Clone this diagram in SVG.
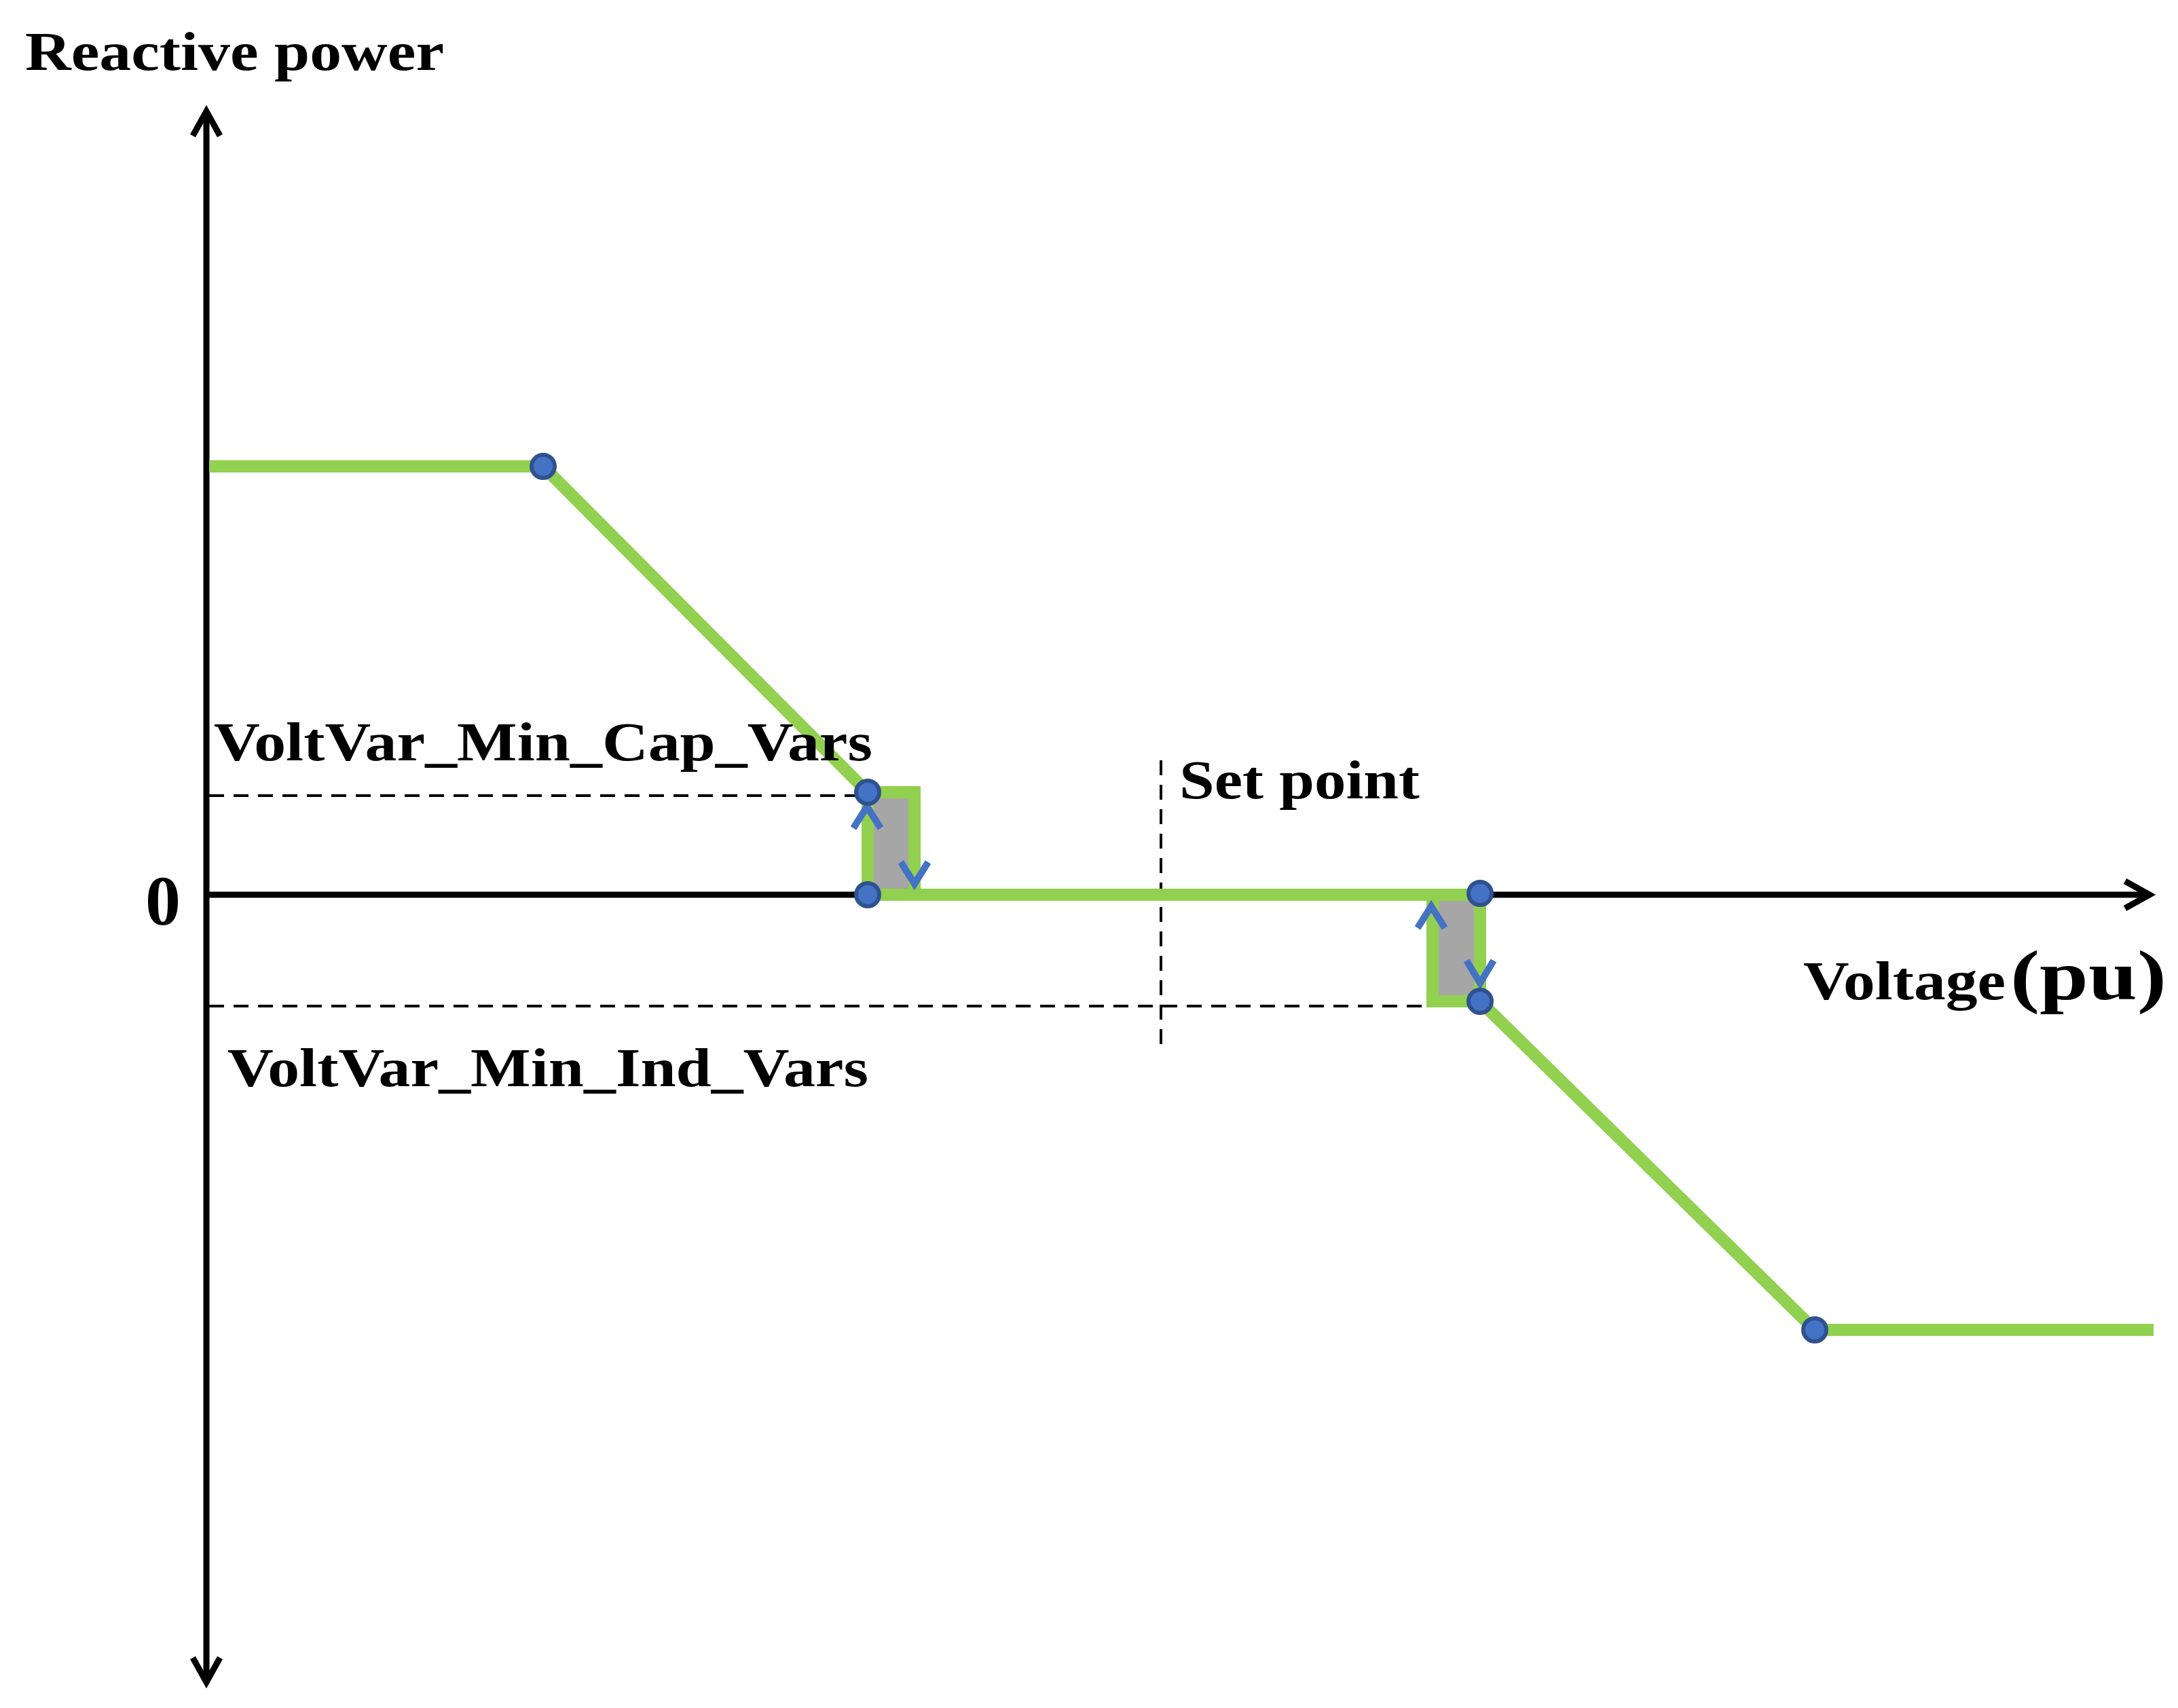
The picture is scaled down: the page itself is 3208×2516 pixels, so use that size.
<svg xmlns="http://www.w3.org/2000/svg" width="3208" height="2516" viewBox="0 0 3208 2516">
<style>
.t{font-family:"Liberation Serif",serif;font-weight:bold;fill:#000}
.g{stroke:#92d050;stroke-width:18;fill:none}
.dot{fill:#4472c4;stroke:#2f528f;stroke-width:6}
.ch{stroke:#4472c4;stroke-width:10;fill:none}
.ds{stroke:#000;stroke-width:4;stroke-dasharray:22 14;fill:none}
</style>
<defs><marker id="ar" viewBox="0 0 20 20" refX="16" refY="10" markerWidth="20" markerHeight="20" markerUnits="userSpaceOnUse" orient="auto"><path d="M2,2 L16,10 L2,18" stroke="#000" stroke-width="4" fill="none"/></marker></defs>
<rect width="3208" height="2516" fill="#fff"/>
<g id="axes">
<line x1="304" y1="2478" x2="304" y2="164" stroke="#000" stroke-width="9"/>
<path d="M284,200 L304,164 L324,200 M284,2442 L304,2478 L324,2442" stroke="#000" stroke-width="9" fill="none"/>
<line x1="304" y1="1318" x2="3166" y2="1318" stroke="#000" stroke-width="9"/>
<path d="M3130,1298 L3166,1318 L3130,1338" stroke="#000" stroke-width="9" fill="none"/>
</g>
<g id="guides">
<line class="ds" x1="308" y1="1172" x2="1278" y2="1172"/>
<line class="ds" x1="308" y1="1482" x2="2110" y2="1482"/>
<line class="ds" x1="1710" y1="1120" x2="1710" y2="1538"/>
</g>
<g id="curve">
<rect x="1287" y="1175" width="52" height="134" fill="#a6a6a6"/>
<rect x="2119" y="1325" width="52" height="143" fill="#a6a6a6"/>
<path class="g" d="M308,687 L800,687 L1278,1167 L1347,1167 L1347,1318 L2180,1318 L2180,1475 L2110,1475 L2110,1318"/>
<path class="g" d="M1278,1167 L1278,1318 L1347,1318"/>
<path class="g" d="M2180,1475 L2673,1959 L3172,1959"/>
</g>
<g id="arrows">
<path class="ch" d="M1257,1220 L1277,1188 L1297,1220"/>
<path class="ch" d="M1327,1270 L1347,1302 L1367,1270"/>
<path class="ch" d="M2088,1367 L2108,1335 L2128,1367"/>
<path class="ch" d="M2160,1415 L2180,1448 L2200,1415"/>
</g>
<g id="points">
<circle class="dot" cx="800" cy="687" r="17"/>
<circle class="dot" cx="1278" cy="1167" r="17"/>
<circle class="dot" cx="1278" cy="1318" r="17"/>
<circle class="dot" cx="2180" cy="1316" r="17"/>
<circle class="dot" cx="2180" cy="1475" r="17"/>
<circle class="dot" cx="2673" cy="1959" r="17"/>
</g>
<g id="labels">
<text class="t" x="37" y="103" font-size="80" textLength="617" lengthAdjust="spacingAndGlyphs">Reactive power</text>
<text class="t" x="315" y="1120" font-size="80" textLength="970" lengthAdjust="spacingAndGlyphs">VoltVar_Min_Cap_Vars</text>
<text class="t" x="335" y="1600" font-size="80" textLength="944" lengthAdjust="spacingAndGlyphs">VoltVar_Min_Ind_Vars</text>
<text class="t" x="1737" y="1176" font-size="80" textLength="354" lengthAdjust="spacingAndGlyphs">Set point</text>
<text class="t" x="214" y="1362" font-size="104">0</text>
<text class="t" x="2656" y="1472" font-size="80" textLength="298" lengthAdjust="spacingAndGlyphs">Voltage</text>
<text class="t" x="2961" y="1472" font-size="104" textLength="230" lengthAdjust="spacingAndGlyphs">(pu)</text>
</g>
</svg>
